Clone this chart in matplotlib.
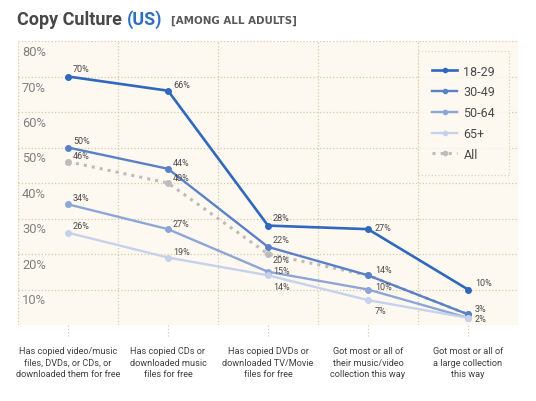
import matplotlib
matplotlib.use('Agg')
import matplotlib.pyplot as plt
from matplotlib.transforms import offset_copy, blended_transform_factory

# data
categories = [
    'Has copied video/music\nfiles, DVDs, or CDs, or\ndownloaded them for free',
    'Has copied CDs or\ndownloaded music\nfiles for free',
    'Has copied DVDs or\ndownloaded TV/Movie\nfiles for free',
    'Got most or all of\ntheir music/video\ncollection this way',
    'Got most or all of\na large collection\nthis way',
]
age_18_29 = [70, 66, 28, 27, 10]
age_30_49 = [50, 44, 22, 14, 3]
age_50_64 = [34, 27, 15, 10, 2]
age_65_up = [26, 19, 14, 7, 2]
all_adults = [46, 40, 20, 14, 3]
y_ticks = [10, 20, 30, 40, 50, 60, 70, 80]

series = [
    ('18-29', age_18_29, '#2f68bd', '-', 1.9),
    ('30-49', age_30_49, '#5a80c8', '-', 1.7),
    ('50-64', age_50_64, '#8ea5d8', '-', 1.7),
    ('65+', age_65_up, '#c6d1ec', '-', 1.7),
    ('All', all_adults, '#bcbcbc', ':', 2.2),
]

# which value labels are shown, with pixel offsets (series index, category index, dx, dy)
labels = [
    (0, 0, 5, 8), (0, 1, 5, 6), (0, 2, 5, 8), (0, 3, 7, 2), (0, 4, 7, 7),
    (1, 0, 5, 7), (1, 1, 5, 6), (1, 2, 5, 7), (1, 3, 7, 6), (1, 4, 7, 6),
    (2, 0, 5, 7), (2, 1, 5, 6), (2, 2, 5, 1), (2, 3, 7, 3), (2, 4, 7, -1),
    (3, 0, 5, 7), (3, 1, 5, 6), (3, 2, 5, -11), (3, 3, 7, -10),
    (4, 0, 5, 6), (4, 1, 5, 5), (4, 2, 5, -6),
]

plt.rcParams['font.family'] = ['Roboto', 'DejaVu Sans']

W, H = 536, 402
fig = plt.figure(figsize=(W / 100, H / 100), dpi=100)
fig.patch.set_facecolor('white')
ax = fig.add_axes([18 / W, 1 - 326 / H, 500 / W, 284 / H])
ax.set_facecolor('#fdf9f1')

x = list(range(len(categories)))
for name, vals, col, ls, lw in series:
    ax.plot(x, vals, ls, color=col, lw=lw, marker='o', ms=4,
            label=name, zorder=3 if name != 'All' else 2)

for si, ci, dx, dy in labels:
    v = series[si][1][ci]
    tr = offset_copy(ax.transData, fig=fig, x=dx, y=dy, units='dots')
    ax.text(ci, v, f'{v}%', transform=tr, fontsize=6.5, color='#4a4a4a',
            ha='left', va='center', zorder=5)

ax.set_xlim(-0.5, 4.5)
ax.set_ylim(0, 80)
ax.set_xticks([i + 0.5 for i in range(-1, 5)], minor=True)
ax.set_xticks([])
ax.set_yticks(y_ticks)
ax.grid(True, which='minor', axis='x', color='#d9c9a6', ls=':', lw=0.9)
ax.grid(True, which='major', axis='y', color='#d9c9a6', ls=':', lw=0.9)
ax.set_axisbelow(True)
ax.tick_params(which='both', length=0, labelleft=False, labelbottom=False)
for s in ax.spines.values():
    s.set_visible(False)

ytr = offset_copy(blended_transform_factory(ax.transAxes, ax.transData),
                  fig=fig, x=4, y=-4, units='dots')
for t in y_ticks:
    ax.text(0, t, f'{t}%', transform=ytr, fontsize=9.3, color='#808080',
            ha='left', va='top')

# small tick stubs below the plot
for i in range(5):
    ax.plot([i, i], [0, -3], ':', color='#d9c9a6', lw=0.9, clip_on=False)

for i, c in enumerate(categories):
    ax.text(i, -6, c, fontsize=6.6, color='#3f3f3f', ha='center', va='top',
            linespacing=1.35)

leg = ax.legend(loc='upper right', bbox_to_anchor=(1 - 9 / 500, 1 - 10 / 284),
                fontsize=9, frameon=True, handlelength=2.0, labelspacing=0.62,
                borderpad=1.1, handletextpad=0.5, fancybox=False,
                borderaxespad=0, markerscale=0.75)
fr = leg.get_frame()
fr.set_facecolor('#fdf9f1')
fr.set_edgecolor('#d9c9a6')
fr.set_linestyle(':')
fr.set_linewidth(0.9)
for t in leg.get_texts():
    t.set_color('#4a4a4a')

# title pieces
fig.canvas.draw()
r = fig.canvas.get_renderer()
tx, ty = 17 / W, 1 - 20 / H
t1 = fig.text(tx, ty, 'Copy Culture ', fontsize=13, fontweight='bold',
              color='#484848', va='center')
bb = t1.get_window_extent(r)
t2 = fig.text(bb.x1 / W, ty, '(US)', fontsize=13, fontweight='bold',
              color='#2f6fc0', va='center')
bb2 = t2.get_window_extent(r)
fig.text(bb2.x1 / W + 9 / W, ty - 1 / H, '[AMONG ALL ADULTS]', fontsize=7.4,
         fontweight='bold', color='#5a5a5a', va='center', family='DejaVu Sans')

fig.savefig('out.png', dpi=100)
